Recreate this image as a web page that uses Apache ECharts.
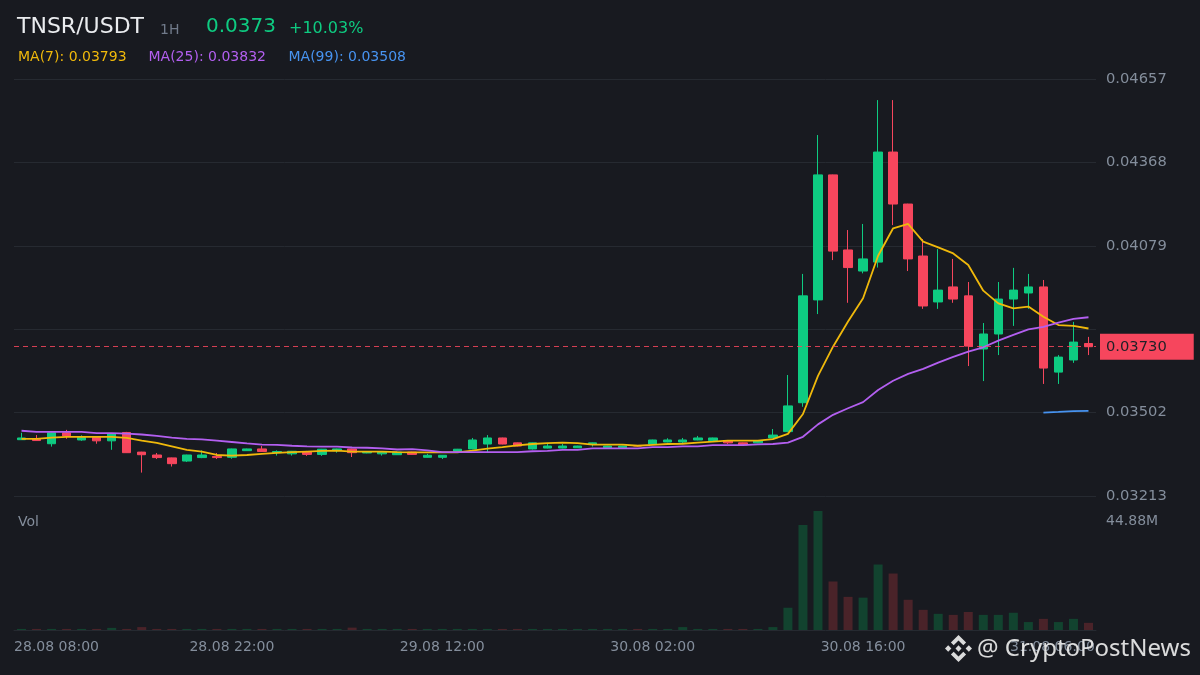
<!DOCTYPE html>
<html>
<head>
<meta charset="utf-8">
<style>
  html, body { margin: 0; padding: 0; background: #181a20; }
  #chart { width: 1200px; height: 675px; }
</style>
<script src="https://cdn.jsdelivr.net/npm/echarts@6/dist/echarts.min.js"></script>
</head>
<body>
<div id="chart"></div>
<script>
// ---------- data ----------
const categories = [
  '28.08 08:00','28.08 09:00','28.08 10:00','28.08 11:00','28.08 12:00','28.08 13:00','28.08 14:00','28.08 15:00',
  '28.08 16:00','28.08 17:00','28.08 18:00','28.08 19:00','28.08 20:00','28.08 21:00','28.08 22:00','28.08 23:00',
  '29.08 00:00','29.08 01:00','29.08 02:00','29.08 03:00','29.08 04:00','29.08 05:00','29.08 06:00','29.08 07:00',
  '29.08 08:00','29.08 09:00','29.08 10:00','29.08 11:00','29.08 12:00','29.08 13:00','29.08 14:00','29.08 15:00',
  '29.08 16:00','29.08 17:00','29.08 18:00','29.08 19:00','29.08 20:00','29.08 21:00','29.08 22:00','29.08 23:00',
  '30.08 00:00','30.08 01:00','30.08 02:00','30.08 03:00','30.08 04:00','30.08 05:00','30.08 06:00','30.08 07:00',
  '30.08 08:00','30.08 09:00','30.08 10:00','30.08 11:00','30.08 12:00','30.08 13:00','30.08 14:00','30.08 15:00',
  '30.08 16:00','30.08 17:00','30.08 18:00','30.08 19:00','30.08 20:00','30.08 21:00','30.08 22:00','30.08 23:00',
  '31.08 00:00','31.08 01:00','31.08 02:00','31.08 03:00','31.08 04:00','31.08 05:00','31.08 06:00','31.08 07:00'
];

const opens = [
  0.03408,0.03410,0.03394,0.03432,0.03407,0.03416,0.03404,0.03433,0.03365,0.03355,
  0.03345,0.03334,0.03346,0.03350,0.03347,0.03370,0.03376,0.03363,0.03359,0.03365,
  0.03357,0.03370,0.03376,0.03362,0.03359,0.03356,0.03365,0.03347,0.03347,0.03368,
  0.03376,0.03393,0.03414,0.03397,0.03376,0.03379,0.03379,0.03380,0.03393,0.03380,
  0.03380,0.03388,0.03393,0.03400,0.03400,0.03407,0.03405,0.03404,0.03397,0.03397,
  0.03414,0.03436,0.03536,0.03892,0.04325,0.04065,0.03992,0.04023,0.04404,0.04224,
  0.04044,0.03885,0.03937,0.03906,0.03722,0.03774,0.03895,0.03916,0.03937,0.03642,
  0.03684,0.03741
];
const closes = [
  0.03414,0.03405,0.03432,0.03421,0.03416,0.03404,0.03429,0.03363,0.03356,0.03346,
  0.03325,0.03355,0.03355,0.03346,0.03376,0.03376,0.03367,0.03367,0.03368,0.03357,
  0.03375,0.03376,0.03363,0.03365,0.03365,0.03365,0.03357,0.03354,0.03354,0.03375,
  0.03407,0.03414,0.03393,0.03386,0.03397,0.03386,0.03386,0.03386,0.03397,0.03386,
  0.03386,0.03386,0.03407,0.03407,0.03407,0.03414,0.03414,0.03397,0.03390,0.03404,
  0.03424,0.03525,0.03906,0.04325,0.04061,0.04004,0.04034,0.04404,0.04224,0.04034,
  0.03871,0.03926,0.03895,0.03732,0.03774,0.03895,0.03926,0.03937,0.03656,0.03694,
  0.03746,0.03730
];
const lows = [
  0.03407,0.03404,0.03384,0.03411,0.03404,0.03394,0.03373,0.03362,0.03294,0.03341,
  0.03315,0.03331,0.03344,0.03341,0.03342,0.03369,0.03366,0.03353,0.03353,0.03352,
  0.03352,0.03363,0.03348,0.03361,0.03353,0.03355,0.03355,0.03346,0.03341,0.03367,
  0.03375,0.03362,0.03392,0.03385,0.03374,0.03378,0.03378,0.03379,0.03384,0.03379,
  0.03379,0.03385,0.03392,0.03399,0.03393,0.03406,0.03404,0.03393,0.03389,0.03396,
  0.03413,0.03434,0.03522,0.03843,0.04030,0.03882,0.03984,0.04004,0.04151,0.03992,
  0.03861,0.03861,0.03882,0.03663,0.03611,0.03701,0.03802,0.03861,0.03601,0.03601,
  0.03674,0.03701
];
const highs = [
  0.03432,0.03424,0.03434,0.03442,0.03423,0.03417,0.03430,0.03435,0.03366,0.03362,
  0.03346,0.03356,0.03371,0.03362,0.03377,0.03377,0.03386,0.03371,0.03369,0.03369,
  0.03376,0.03377,0.03377,0.03366,0.03366,0.03366,0.03366,0.03359,0.03355,0.03376,
  0.03414,0.03424,0.03415,0.03398,0.03398,0.03393,0.03393,0.03387,0.03398,0.03387,
  0.03387,0.03389,0.03408,0.03413,0.03414,0.03421,0.03415,0.03405,0.03398,0.03405,
  0.03445,0.03632,0.03982,0.04463,0.04326,0.04134,0.04155,0.04584,0.04584,0.04225,
  0.04103,0.04068,0.04034,0.03954,0.03812,0.03954,0.04003,0.03982,0.03961,0.03701,
  0.03816,0.03764
];

const ma7 = [
  0.03411,0.03411,0.03415,0.03418,0.03418,0.03418,0.03418,0.03414,0.03405,0.03397,
  0.03385,0.03373,0.03367,0.03355,0.03353,0.03355,0.03359,0.03362,0.03365,0.03367,
  0.03369,0.03370,0.03367,0.03367,0.03367,0.03365,0.03364,0.03364,0.03364,0.03364,
  0.03370,0.03377,0.03382,0.03388,0.03393,0.03396,0.03398,0.03396,0.03391,0.03391,
  0.03391,0.03387,0.03390,0.03393,0.03394,0.03398,0.03401,0.03405,0.03405,0.03405,
  0.03410,0.03428,0.03497,0.03629,0.03730,0.03817,0.03898,0.04045,0.04140,0.04155,
  0.04094,0.04074,0.04053,0.04013,0.03924,0.03880,0.03863,0.03869,0.03834,0.03805,
  0.03802,0.03793
];
const ma25 = [
  0.03439,0.03435,0.03435,0.03435,0.03435,0.03431,0.03431,0.03429,0.03426,0.03421,
  0.03415,0.03411,0.03409,0.03405,0.03400,0.03395,0.03391,0.03390,0.03387,0.03385,
  0.03384,0.03384,0.03381,0.03380,0.03378,0.03374,0.03375,0.03371,0.03365,0.03365,
  0.03365,0.03365,0.03365,0.03365,0.03368,0.03369,0.03373,0.03373,0.03378,0.03378,
  0.03378,0.03378,0.03382,0.03382,0.03385,0.03385,0.03389,0.03389,0.03389,0.03392,
  0.03393,0.03398,0.03418,0.03461,0.03494,0.03517,0.03538,0.03580,0.03612,0.03636,
  0.03653,0.03675,0.03695,0.03713,0.03728,0.03751,0.03771,0.03790,0.03799,0.03813,
  0.03826,0.03832
];
const ma99 = [
  null,null,null,null,null,null,null,null,null,null,
  null,null,null,null,null,null,null,null,null,null,
  null,null,null,null,null,null,null,null,null,null,
  null,null,null,null,null,null,null,null,null,null,
  null,null,null,null,null,null,null,null,null,null,
  null,null,null,null,null,null,null,null,null,null,
  null,null,null,null,null,null,null,null,0.03502,0.03504,
  0.03507,0.03508
];

// volume in millions
const volumes = [
  0.4,0.4,0.4,0.4,0.4,0.4,0.8,0.4,1.1,0.4,
  0.4,0.4,0.4,0.4,0.4,0.4,0.4,0.4,0.4,0.4,
  0.4,0.4,0.9,0.4,0.4,0.4,0.4,0.4,0.4,0.4,
  0.4,0.4,0.4,0.4,0.4,0.4,0.4,0.4,0.4,0.4,
  0.4,0.4,0.4,0.4,1.1,0.4,0.4,0.4,0.4,0.4,
  1.1,8.4,39.6,44.88,18.3,12.5,12.2,24.7,21.3,11.4,
  7.6,6.1,5.7,6.8,5.7,5.7,6.5,3.0,4.2,3.0,
  4.2,2.7
];

const priceTickLabels = ['0.03213','0.03502','','0.04079','0.04368','0.04657'];
const priceMin = 0.03213, priceMax = 0.04657;
const volMax = 44.88, volMaxLabel = '44.88M';
const lastPrice = 0.03730, lastPriceLabel = '0.03730';

const headerPair = 'TNSR/USDT', headerInterval = '1H', headerPrice = '0.0373', headerChange = '+10.03%';
const maLegend = ['MA(7): 0.03793', 'MA(25): 0.03832', 'MA(99): 0.03508'];
const watermarkText = '@ CryptoPostNews';

// ---------- style ----------
const UP = '#0ecb81', DOWN = '#f6465d';
const UP_VOL = '#12432f', DOWN_VOL = '#4a2329';
const GRID = '#262a31', TXT = '#848e9c';
const C_MA7 = '#f0b90b', C_MA25 = '#b35ff0', C_MA99 = '#4793f0';
const FONT = 'DejaVu Sans';

const candleData = opens.map((o, i) => [o, closes[i], lows[i], highs[i]]);
const volData = volumes.map((v, i) => ({
  value: v,
  itemStyle: { color: closes[i] >= opens[i] ? UP_VOL : DOWN_VOL }
}));

const chart = echarts.init(document.getElementById('chart'), null, { renderer: 'canvas' });

function txt(x, y, text, size, color, family) {
  return {
    type: 'text', x: x, y: y, silent: true,
    style: { text: text, font: size + 'px "' + (family || FONT) + '"', fill: color, verticalAlign: 'middle', align: 'left' }
  };
}

const cx = 958.5, cy = 648.5;
const logoColor = 'rgba(235,235,235,0.92)';
function poly(pts) {
  return { type: 'polygon', silent: true, shape: { points: pts }, style: { fill: logoColor } };
}

chart.setOption({
  animation: false,
  backgroundColor: '#181a20',
  textStyle: { fontFamily: FONT },
  grid: [
    { left: 14, right: 104, top: 79, height: 417 },
    { left: 14, right: 104, top: 511, height: 119 }
  ],
  xAxis: [
    {
      type: 'category', gridIndex: 0, data: categories, boundaryGap: true,
      axisLine: { show: false }, axisTick: { show: false }, axisLabel: { show: false }, splitLine: { show: false }
    },
    {
      type: 'category', gridIndex: 1, data: categories, boundaryGap: true,
      axisLine: { show: true, lineStyle: { color: GRID, width: 1 } },
      axisTick: { show: false }, splitLine: { show: false },
      axisLabel: {
        interval: 13, color: TXT, fontSize: 14, margin: 10, fontFamily: FONT,
        formatter: function (val, idx) {
          if (idx === 0) return '{f|' + val + '}';
          if (idx === 70) return '{l|' + val + '}';
          return val;
        },
        rich: {
          f: { padding: [0, 0, 0, 70], color: TXT, fontSize: 14, fontFamily: FONT },
          l: { padding: [0, 42, 0, 0], color: TXT, fontSize: 14, fontFamily: FONT }
        }
      }
    }
  ],
  yAxis: [
    { type: 'value', gridIndex: 0, min: priceMin, max: priceMax, show: false, splitLine: { show: false } },
    {
      type: 'value', gridIndex: 0, min: 0, max: 5, interval: 1, position: 'right',
      axisLine: { show: false }, axisTick: { show: false },
      splitLine: { show: true, lineStyle: { color: GRID, width: 1 } },
      axisLabel: {
        color: TXT, fontSize: 14.7, margin: 10, fontFamily: FONT,
        formatter: function (v) { return priceTickLabels[Math.round(v)]; }
      }
    },
    {
      type: 'value', gridIndex: 1, min: 0, max: volMax, interval: volMax, position: 'right',
      axisLine: { show: false }, axisTick: { show: false }, splitLine: { show: false },
      axisLabel: {
        showMinLabel: false, color: TXT, fontSize: 14, margin: 10, fontFamily: FONT,
        verticalAlign: 'top', padding: [3, 0, 0, 0],
        formatter: function (v) { return v >= volMax ? volMaxLabel : ''; }
      }
    }
  ],
  series: [
    {
      name: 'K', type: 'candlestick', xAxisIndex: 0, yAxisIndex: 0, data: candleData, barWidth: 9,
      itemStyle: { color: UP, color0: DOWN, borderColor: UP, borderColor0: DOWN, borderWidth: 1 }
    },
    {
      name: 'MA7', type: 'line', xAxisIndex: 0, yAxisIndex: 0, data: ma7, symbol: 'none',
      lineStyle: { color: C_MA7, width: 1.8 }, z: 3,
      markLine: {
        silent: true, symbol: ['none', 'none'], animation: false, precision: 5,
        data: [{ yAxis: lastPrice }],
        lineStyle: { color: 'rgba(246,70,93,0.85)', type: [5, 4], width: 1 },
        label: {
          show: true, position: 'end', distance: 4,
          formatter: function () { return '{p|' + lastPriceLabel + '}'; },
          backgroundColor: DOWN, padding: [5, 27, 5, 6],
          rich: { p: { color: '#1e2026', fontSize: 14.7, fontFamily: FONT, lineHeight: 16 } }
        },
        emphasis: { disabled: true }
      }
    },
    {
      name: 'MA25', type: 'line', xAxisIndex: 0, yAxisIndex: 0, data: ma25, symbol: 'none',
      lineStyle: { color: C_MA25, width: 1.8 }, z: 3
    },
    {
      name: 'MA99', type: 'line', xAxisIndex: 0, yAxisIndex: 0, data: ma99, symbol: 'none',
      lineStyle: { color: C_MA99, width: 1.8 }, z: 3
    },
    {
      name: 'Vol', type: 'bar', xAxisIndex: 1, yAxisIndex: 2, data: volData, barWidth: 9, barMinHeight: 1
    }
  ],
  graphic: [
    txt(17, 27, headerPair, 22, '#eaecef'),
    txt(160, 30, headerInterval, 14, '#707a8a'),
    txt(206, 27, headerPrice, 20, UP),
    txt(289, 28.5, headerChange, 16, UP),
    txt(18, 57.5, maLegend[0], 14, C_MA7),
    txt(148.5, 57.5, maLegend[1], 14, C_MA25),
    txt(288.5, 57.5, maLegend[2], 14, C_MA99),
    txt(18, 522, 'Vol', 14, TXT),
    poly([[cx - 3, cy], [cx, cy - 3.2], [cx + 3, cy], [cx, cy + 3.2]]),
    poly([[cx - 13.5, cy], [cx - 10.3, cy - 3.2], [cx - 7.1, cy], [cx - 10.3, cy + 3.2]]),
    poly([[cx + 13.5, cy], [cx + 10.3, cy - 3.2], [cx + 7.1, cy], [cx + 10.3, cy + 3.2]]),
    poly([[cx - 7.6, cy - 6.1], [cx, cy - 13.5], [cx + 7.6, cy - 6.1], [cx + 4.8, cy - 3.3], [cx, cy - 8.1], [cx - 4.8, cy - 3.3]]),
    poly([[cx - 7.6, cy + 6.1], [cx, cy + 13.5], [cx + 7.6, cy + 6.1], [cx + 4.8, cy + 3.3], [cx, cy + 8.1], [cx - 4.8, cy + 3.3]]),
    {
      type: 'text', x: 977, y: 649, silent: true, z: 100,
      style: { text: watermarkText, font: '24px "Noto Sans"', fill: 'rgba(235,235,235,0.92)', verticalAlign: 'middle', align: 'left' }
    }
  ]
});
</script>
</body>
</html>
